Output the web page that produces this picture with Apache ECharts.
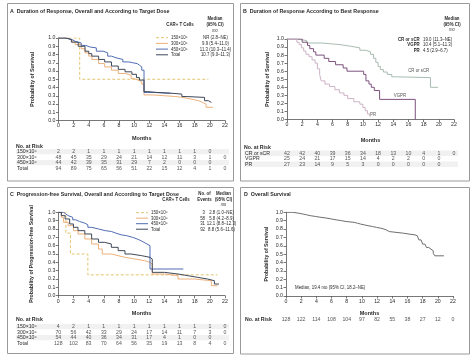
<!DOCTYPE html>
<html><head><meta charset="utf-8">
<script src="https://cdn.jsdelivr.net/npm/echarts@6/dist/echarts.min.js"></script>
<style>html,body{margin:0;padding:0;background:#fff}#c{width:474px;height:360px}</style>
</head><body><div id="c"></div>
<script>
// ---------- DATA ----------
const riskMonths = [0,2,4,6,8,10,12,14,16,18,20,22];

// Panel A: Duration of response by target dose
const A_150 = [[0,1],[2.8,0.5],[19.8,0.5]];
const A_300 = [[0,1],[1.2,0.98],[1.8,0.95],[2.2,0.92],[3.0,0.87],[3.5,0.82],[4.0,0.78],[4.4,0.74],[5.3,0.69],[6.1,0.65],[7.0,0.61],[7.9,0.57],[8.8,0.55],[9.6,0.51],[9.9,0.49],[10.5,0.47],[11.0,0.44],[11.3,0.31],[12.5,0.30],[14.0,0.29],[15.5,0.28],[16.4,0.26],[17.5,0.24],[18.5,0.22],[19.0,0.20],[19.5,0.16],[20.4,0.16]];
const A_450 = [[0,1],[1.0,0.98],[1.8,0.96],[2.2,0.94],[3.0,0.91],[3.6,0.89],[4.2,0.88],[5.0,0.84],[5.9,0.82],[6.5,0.78],[7.0,0.76],[7.6,0.74],[8.5,0.71],[9.3,0.70],[9.8,0.69],[10.4,0.67],[10.7,0.65],[11.0,0.61],[11.3,0.34],[12.6,0.33],[14.8,0.33]];
const A_total = [[0,1],[1.0,0.98],[1.7,0.95],[2.6,0.90],[3.5,0.84],[4.0,0.81],[4.4,0.78],[5.3,0.74],[6.1,0.71],[7.0,0.66],[7.9,0.62],[8.8,0.59],[9.7,0.56],[10.3,0.52],[10.7,0.49],[11.3,0.35],[11.8,0.34],[13.0,0.33],[15.0,0.32],[16.3,0.29],[17.0,0.28],[19.3,0.24],[19.8,0.22],[20.2,0.22]];

// Panel B: Duration of response by best response
const B_cr = [[0,1],[1.3,0.98],[2.6,0.95],[4.6,0.93],[7.0,0.91],[8.4,0.89],[9.6,0.86],[10.4,0.84],[11.0,0.81],[11.4,0.76],[11.7,0.71],[12.0,0.66],[12.3,0.62],[12.7,0.59],[13.2,0.56],[13.8,0.53],[14.6,0.52],[18.9,0.40],[19.9,0.40]];
const B_vgpr = [[0,1],[2.0,0.96],[2.7,0.92],[3.0,0.88],[3.5,0.84],[3.8,0.80],[4.9,0.76],[5.5,0.72],[6.4,0.68],[7.4,0.64],[7.9,0.60],[10.1,0.56],[10.4,0.48],[10.8,0.44],[11.1,0.40],[11.5,0.36],[12.2,0.25],[16.9,0.0]];
const B_pr = [[0,1],[1.3,0.96],[1.6,0.93],[1.9,0.89],[2.2,0.85],[2.5,0.81],[2.9,0.78],[3.3,0.74],[3.7,0.70],[4.0,0.63],[4.3,0.56],[4.5,0.48],[5.0,0.44],[5.6,0.41],[6.3,0.37],[6.9,0.33],[7.5,0.30],[8.0,0.26],[8.8,0.22],[9.6,0.19],[10.0,0.15],[10.3,0.11],[10.6,0.07],[10.9,0.04],[11.0,0.04]];

// Panel C: Progression-free survival by target dose
const C_150 = [[0,1],[1.0,0.75],[1.6,0.5],[3.9,0.25],[21.0,0.25]];
const C_300 = [[0,1],[0.4,0.94],[0.7,0.88],[1.3,0.84],[2.0,0.78],[2.6,0.74],[3.5,0.68],[4.4,0.62],[5.3,0.56],[5.8,0.50],[7.0,0.48],[7.9,0.46],[8.8,0.44],[10.1,0.42],[11.4,0.40],[12.1,0.38],[12.4,0.26],[14.0,0.24],[15.8,0.20],[18.0,0.18],[20.2,0.12],[21.0,0.12]];
const C_450 = [[0,1],[0.7,0.98],[1.0,0.96],[1.3,0.94],[1.9,0.91],[2.3,0.89],[2.8,0.87],[3.5,0.85],[3.9,0.82],[4.4,0.80],[5.3,0.78],[6.2,0.77],[7.0,0.75],[7.6,0.73],[8.3,0.72],[9.0,0.70],[9.8,0.68],[10.4,0.66],[10.9,0.64],[11.3,0.62],[11.7,0.60],[12.1,0.32],[16.5,0.32]];
const C_total = [[0,1],[0.4,0.96],[0.9,0.92],[1.5,0.86],[2.0,0.82],[2.6,0.78],[3.5,0.74],[4.4,0.68],[5.3,0.64],[6.1,0.62],[7.0,0.58],[7.9,0.54],[8.8,0.50],[9.6,0.48],[11.0,0.46],[12.1,0.44],[12.4,0.28],[14.0,0.26],[15.8,0.24],[17.1,0.22],[18.4,0.20],[19.7,0.18],[20.6,0.14],[21.2,0.14]];

// Panel D: Overall survival
const D_os = [[0,1],[0.9,0.99],[1.6,0.98],[2.2,0.97],[2.7,0.96],[3.2,0.95],[3.9,0.94],[4.6,0.93],[5.4,0.92],[6.0,0.91],[6.6,0.90],[7.3,0.89],[7.9,0.88],[9.0,0.87],[9.4,0.86],[9.8,0.85],[10.3,0.84],[10.8,0.83],[11.4,0.82],[11.9,0.81],[12.5,0.80],[12.9,0.79],[13.2,0.78],[13.4,0.77],[13.6,0.76],[13.8,0.75],[15.5,0.74],[16.2,0.73],[17.0,0.72],[17.3,0.70],[17.5,0.67],[17.8,0.65],[18.0,0.62],[18.3,0.60],[18.5,0.58],[18.8,0.56],[19.1,0.54],[19.4,0.51],[19.6,0.48],[20.8,0.48]];

// Risk tables
const riskA_rows = ['150×10⁶','300×10⁶','450×10⁶','Total'];
const riskA_150 = [2,2,1,1,1,1,1,1,1,1,0];
const riskA_300 = [48,45,35,29,24,21,14,12,11,3,1,0];
const riskA_450 = [44,42,39,35,31,29,7,2,0,0,0];
const riskA_total = [94,89,75,65,56,51,22,15,12,4,1,0];

const riskB_rows = ['CR or sCR','VGPR','PR'];
const riskB_cr = [42,42,40,39,36,34,18,13,10,4,1,0];
const riskB_vgpr = [25,24,21,17,15,14,4,2,2,0,0];
const riskB_pr = [27,23,14,9,5,3,0,0,0,0,0];

const riskC_rows = ['150×10⁶','300×10⁶','450×10⁶','Total'];
const riskC_150 = [4,2,1,1,1,1,1,1,1,1,1,0];
const riskC_300 = [70,56,42,33,29,24,17,14,11,7,3,0];
const riskC_450 = [54,44,40,36,34,31,17,4,1,0,0];
const riskC_total = [128,102,83,70,64,56,35,19,13,8,4,0];

const riskD_rows = ['No. at Risk'];
const riskD_all = [128,122,114,108,104,97,82,55,38,27,12,0];

// Legend texts
const legA_labels = ['150×10⁶','300×10⁶','450×10⁶','Total'];
const legA_medians = ['NR (2.8–NE)','9.9 (5.4–11.0)','11.3 (10.3–11.4)','10.7 (9.0–11.3)'];
const legB_labels = ['CR or sCR','VGPR','PR'];
const legB_medians = ['19.0 (11.3–NE)','10.4 (5.1–11.3)','4.5 (2.9–6.7)'];
const legC_labels = ['150×10⁶','300×10⁶','450×10⁶','Total'];
const legC_events = ['3','58','31','92'];
const legC_medians = ['2.8 (1.0–NE)','5.8 (4.2–8.9)','12.1 (8.8–12.3)','8.8 (5.6–11.6)'];

// ---------- STYLE ----------
const FONT = '"Liberation Sans Narrow","Liberation Sans",Arial,sans-serif';
const TXT = '#2a2a2a';
const AX = '#555';
const COL150 = '#e2c56e', COL300 = '#ecb07a', COL450 = '#4f6db3', COLTOT = '#3e4858';
const COLCR = '#a9bcb0', COLVG = '#7d527e', COLPR = '#cdb3c6', COLD = '#6e6e6e';
const FS = 5.2;   // general small text
const LFS = 5.2;  // legend text (horizontally condensed)
const SQ = 0.84;  // horizontal condensation for legend text

const mainG = [
  {left:58.5, top:38, width:166.5, height:82.5, yName:'Probability of Survival', yGap:23},
  {left:287, top:39, width:167, height:80.5, yName:'Probability of Survival', yGap:17},
  {left:58.3, top:212.3, width:166.7, height:83.4, yName:'Probability of Progression-free Survival', yGap:24},
  {left:286, top:212.3, width:167, height:83.7, yName:'Probability of Survival', yGap:17}
];
const monthsGap = [15, 17.5, 14.5, 14];
const riskG = [
  {top:149, height:22.1, rows:riskA_rows, shade:true},
  {top:150.5, height:16.5, rows:riskB_rows, shade:true},
  {top:324, height:22, rows:riskC_rows, shade:true},
  {top:316.6, height:5.5, rows:riskD_rows, shade:false}
];
const rowLabelX = [16, 244, 16, 244];
const riskRightPad = 4;

const grid = [], xAxis = [], yAxis = [];
mainG.forEach((g,i)=>{
  grid.push({left:g.left, top:g.top, width:g.width, height:g.height});
  xAxis.push({type:'value', gridIndex:i, min:0, max:22, interval:2,
    axisLine:{show:true, onZero:false, lineStyle:{color:AX, width:0.8}},
    axisTick:{show:true, length:2.5, lineStyle:{color:AX, width:0.8}},
    axisLabel:{fontSize:FS, color:TXT, margin:3, fontFamily:FONT},
    splitLine:{show:false},
    name:'Months', nameLocation:'middle', nameGap:monthsGap[i],
    nameTextStyle:{fontSize:5.5, fontWeight:'bold', color:TXT, fontFamily:FONT}});
  yAxis.push({type:'value', gridIndex:i, min:0, max:1, interval:0.1,
    axisLine:{show:true, lineStyle:{color:AX, width:0.8}},
    axisTick:{show:true, length:2.5, lineStyle:{color:AX, width:0.8}},
    axisLabel:{fontSize:FS, color:TXT, margin:3, fontFamily:FONT, formatter:v=>v.toFixed(1)},
    splitLine:{show:false},
    name:g.yName, nameLocation:'middle', nameGap:g.yGap, nameRotate:90,
    nameTextStyle:{fontSize:5.2, fontWeight:'bold', color:TXT, fontFamily:FONT}});
});
riskG.forEach((r,i)=>{
  const g = mainG[i];
  const pxPerMonth = g.width/22;
  const left = rowLabelX[i];
  const width = g.left + g.width + riskRightPad - left;
  grid.push({left:left, top:r.top, width:width, height:r.height});
  xAxis.push({type:'value', gridIndex:4+i, min:-(g.left-left)/pxPerMonth, max:22+riskRightPad/pxPerMonth, show:false});
  yAxis.push({type:'category', gridIndex:4+i, data:r.rows, inverse:true,
    axisLine:{show:false}, axisTick:{show:false}, splitLine:{show:false},
    splitArea:{show:r.shade, interval:0, areaStyle:{color:['#f1f1f1','#ffffff']}},
    axisLabel:{interval:0, align:'left', margin:-1, fontSize:FS, color:TXT, fontFamily:FONT,
      fontWeight: i===3 ? 'bold' : 'normal'}});
});

const series = [];
function km(data, gi, color, dashed){
  series.push({type:'line', xAxisIndex:gi, yAxisIndex:gi, data:data, step:'end',
    showSymbol:false, symbol:'none', silent:true, animation:false,
    lineStyle:{color:color, width:1, type: dashed ? [3,2] : 'solid'}});
}
km(A_150,0,COL150,true); km(A_300,0,COL300); km(A_450,0,COL450); km(A_total,0,COLTOT);
km(B_cr,1,COLCR); km(B_vgpr,1,COLVG); km(B_pr,1,COLPR);
km(C_150,2,COL150,true); km(C_300,2,COL300); km(C_450,2,COL450); km(C_total,2,COLTOT);
km(D_os,3,COLD);

function riskRow(arr, gi, row){
  series.push({type:'scatter', xAxisIndex:4+gi, yAxisIndex:4+gi, symbolSize:1, animation:false,
    itemStyle:{color:'rgba(0,0,0,0)'},
    data: arr.map((v,k)=>[riskMonths[k], row, v]),
    label:{show:true, position:'inside', formatter:p=>String(p.value[2]), fontSize:FS, color:TXT, fontFamily:FONT}});
}
[riskA_150,riskA_300,riskA_450,riskA_total].forEach((a,r)=>riskRow(a,0,r));
[riskB_cr,riskB_vgpr,riskB_pr].forEach((a,r)=>riskRow(a,1,r));
[riskC_150,riskC_300,riskC_450,riskC_total].forEach((a,r)=>riskRow(a,2,r));
riskRow(riskD_all,3,0);

// ---------- GRAPHIC (frames, titles, legends) ----------
const G = [];
function T(text,x,y,opt){ opt=opt||{};
  G.push({type:'text', silent:true, x:x, y:y, scaleX: opt.sq===false ? 1 : SQ,
    style:{text:text, x:0, y:0, fill:opt.fill||TXT,
    font:(opt.italic?'italic ':'')+(opt.bold?'bold ':'')+(opt.size||LFS)+'px '+FONT,
    align:opt.align||'left', verticalAlign:'middle'}});
}
function L(x1,y1,x2,y2,color,dashed){
  G.push({type:'line', silent:true, shape:{x1:x1,y1:y1,x2:x2,y2:y2},
    style:{stroke:color, lineWidth:1, lineDash: dashed?[3,2]:null}});
}
function R(x,y,w,h){
  G.push({type:'rect', silent:true, shape:{x:x,y:y,width:w,height:h},
    style:{fill:'none', stroke:'#9a9a9a', lineWidth:1}});
}
R(7.5,3.5,226,177.5); R(240.5,3.5,229,177.5); R(7.5,187.5,226,166); R(240.5,187.5,229,166.5);

const TS = 5.3;
T('A  Duration of Response, Overall and According to Target Dose',10,12,{bold:true,size:TS,sq:false});
T('B  Duration of Response According to Best Response',243,12,{bold:true,size:TS,sq:false});
T('C  Progression-free Survival, Overall and According to Target Dose',10,195,{bold:true,size:TS,sq:false});
T('D  Overall Survival',244,195,{bold:true,size:TS,sq:false});

T('No. at Risk',16,146.7,{bold:true,size:FS,sq:false});
T('No. at Risk',244,147.3,{bold:true,size:FS,sq:false});
T('No. at Risk',16,319.3,{bold:true,size:FS,sq:false});

// Legend A
T('CAR+ T Cells',180,25,{bold:true,align:'center'});
T('Median',215,19,{bold:true,align:'center'});
T('(95% CI)',215,25,{bold:true,align:'center'});
T('mo',215,31,{italic:true,align:'center',size:4.6});
const colsA=[COL150,COL300,COL450,COLTOT];
legA_labels.forEach((s,i)=>{ const y=37.7+i*5.7;
  L(156,y,168,y,colsA[i],i===0); T(s,171,y); T(legA_medians[i],215.5,y,{align:'center'}); });

// Legend B
T('Median',452,19,{bold:true,align:'center'});
T('(95% CI)',452,24.5,{bold:true,align:'center'});
T('mo',452,30,{italic:true,align:'center',size:4.6});
legB_labels.forEach((s,i)=>{ const y=39.3+i*5.4;
  T(s,419.7,y,{bold:true,align:'right'}); T(legB_medians[i],423,y); });
T('CR or sCR',418.7,70.7,{align:'center',fill:'#555'});
T('VGPR',400,96,{align:'center',fill:'#555'});
T('PR',373,114.3,{align:'center',fill:'#555'});

// Legend C
T('CAR+ T Cells',176,199.3,{bold:true,align:'center'});
T('No. of',204.5,194,{bold:true,align:'center'});
T('Events',204.5,199.3,{bold:true,align:'center'});
T('Median',223.5,194,{bold:true,align:'center'});
T('(95% CI)',223.5,199.3,{bold:true,align:'center'});
T('mo',223.5,204.5,{italic:true,align:'center',size:4.6});
legC_labels.forEach((s,i)=>{ const y=212.7+i*5.5;
  L(136,y,148,y,colsA[i],i===0); T(s,151,y); T(legC_events[i],205,y,{align:'right'});
  T(legC_medians[i],221.5,y,{align:'center'}); });

// Panel D annotation
T('Median, 19.4 mo (95% CI, 18.2–NE)',295,287.7);

const chart = echarts.init(document.getElementById('c'), null, {renderer:'canvas'});
chart.setOption({backgroundColor:'#fff', animation:false, grid, xAxis, yAxis, series, graphic:G});
</script>
</body></html>
